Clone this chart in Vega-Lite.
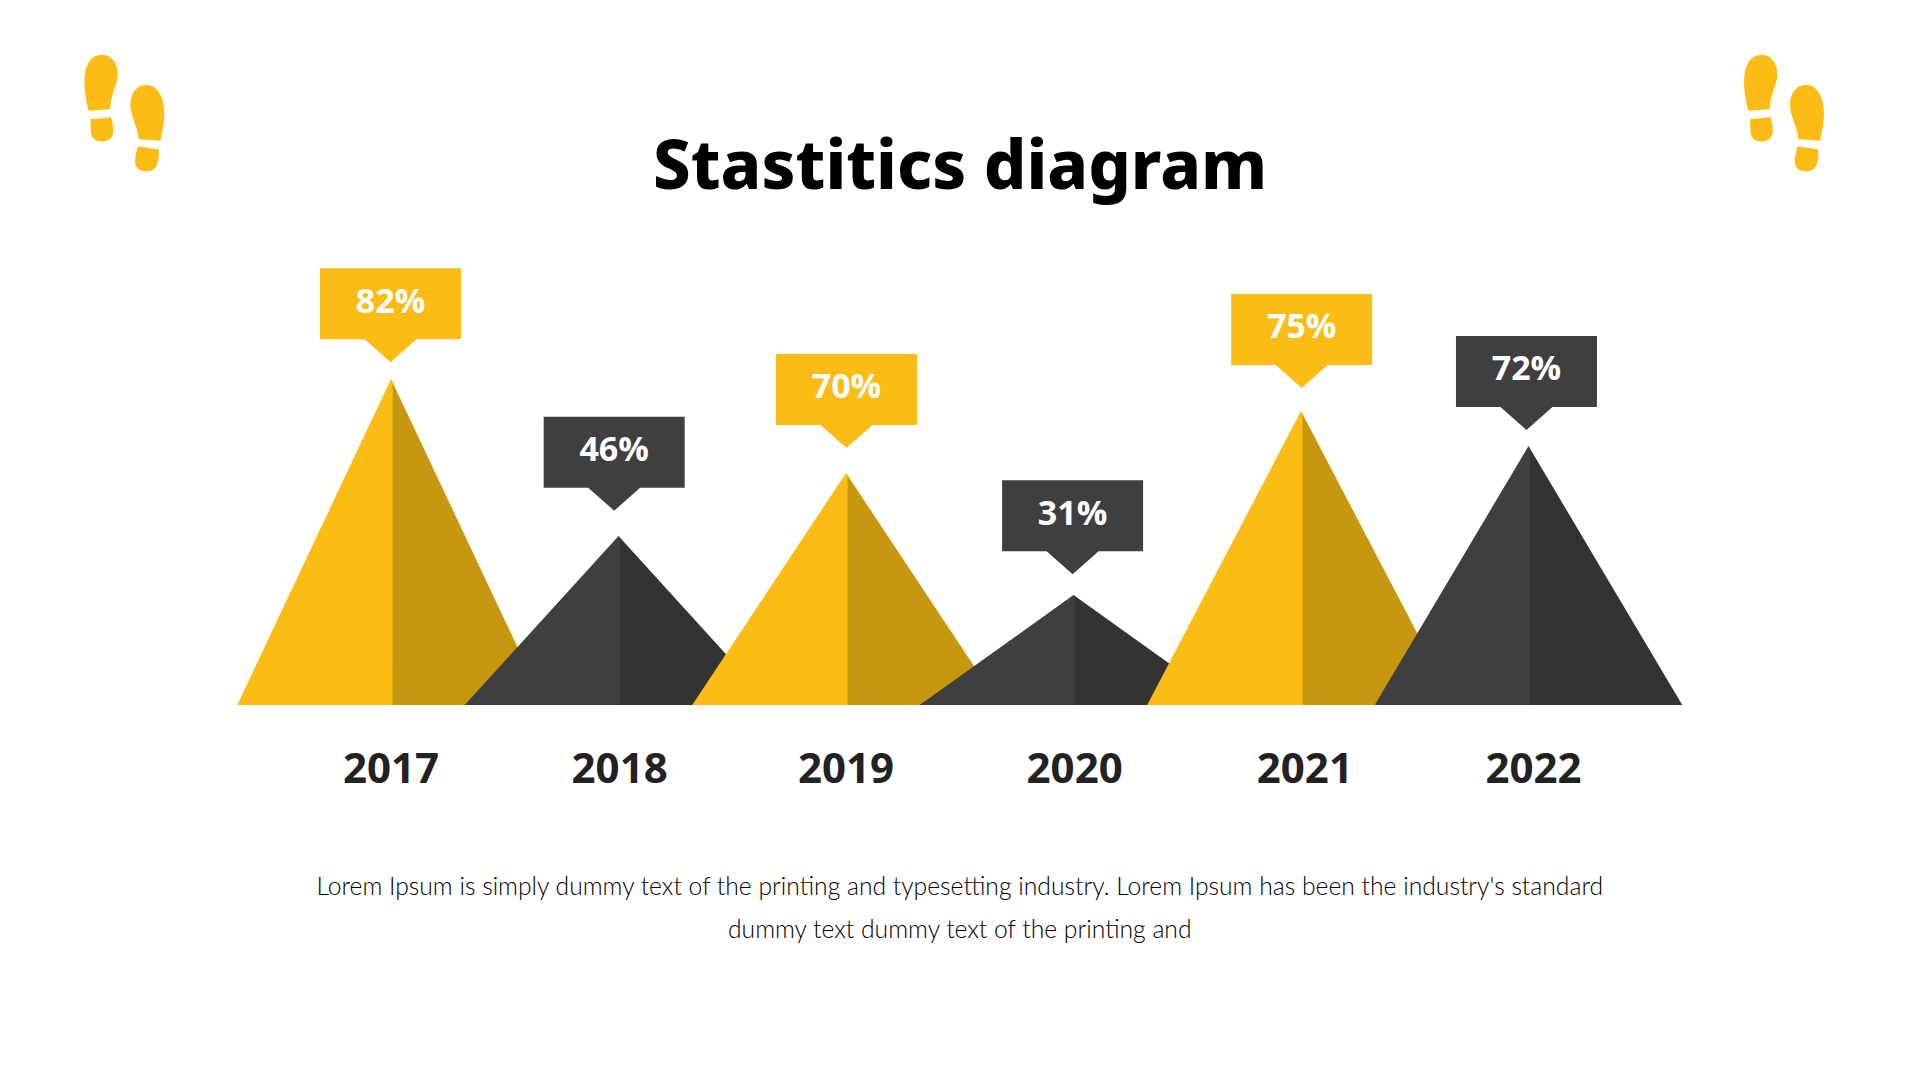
{
  "$schema": "https://vega.github.io/schema/vega-lite/v6.json",
  "width": 1920,
  "height": 1080,
  "autosize": {"type": "fit", "contains": "padding"},
  "padding": 0,
  "background": "#ffffff",
  "config": {"view": {"stroke": null}},
  "title": {
    "text": "Stastitics diagram",
    "anchor": "middle",
    "frame": "group",
    "offset": -203,
    "font": "Noto Sans",
    "fontSize": 67,
    "fontWeight": 800,
    "color": "#000000"
  },
  "datasets": {
    "triangles": [
      {"year": 2017, "part": "2017 shade", "tone": "yellow shade", "pos": 2017, "level": 81.5},
      {"year": 2017, "part": "2017 shade", "tone": "yellow shade", "pos": 2017.676, "level": 0},
      {"year": 2017, "part": "2017 lit", "tone": "yellow lit", "pos": 2016.324, "level": 0},
      {"year": 2017, "part": "2017 lit", "tone": "yellow lit", "pos": 2017, "level": 81.5},
      {"year": 2017, "part": "2017 lit", "tone": "yellow lit", "pos": 2017.007, "level": 80.7},
      {"year": 2018, "part": "2018 shade", "tone": "dark shade", "pos": 2018, "level": 42.25},
      {"year": 2018, "part": "2018 shade", "tone": "dark shade", "pos": 2018.676, "level": 0},
      {"year": 2018, "part": "2018 lit", "tone": "dark lit", "pos": 2017.324, "level": 0},
      {"year": 2018, "part": "2018 lit", "tone": "dark lit", "pos": 2018, "level": 42.25},
      {"year": 2018, "part": "2018 lit", "tone": "dark lit", "pos": 2018.007, "level": 41.8},
      {"year": 2019, "part": "2019 shade", "tone": "yellow shade", "pos": 2019, "level": 58},
      {"year": 2019, "part": "2019 shade", "tone": "yellow shade", "pos": 2019.676, "level": 0},
      {"year": 2019, "part": "2019 lit", "tone": "yellow lit", "pos": 2018.324, "level": 0},
      {"year": 2019, "part": "2019 lit", "tone": "yellow lit", "pos": 2019, "level": 58},
      {"year": 2019, "part": "2019 lit", "tone": "yellow lit", "pos": 2019.007, "level": 57.4},
      {"year": 2020, "part": "2020 shade", "tone": "dark shade", "pos": 2020, "level": 27.5},
      {"year": 2020, "part": "2020 shade", "tone": "dark shade", "pos": 2020.676, "level": 0},
      {"year": 2020, "part": "2020 lit", "tone": "dark lit", "pos": 2019.324, "level": 0},
      {"year": 2020, "part": "2020 lit", "tone": "dark lit", "pos": 2020, "level": 27.5},
      {"year": 2020, "part": "2020 lit", "tone": "dark lit", "pos": 2020.007, "level": 27.2},
      {"year": 2021, "part": "2021 shade", "tone": "yellow shade", "pos": 2021, "level": 73.5},
      {"year": 2021, "part": "2021 shade", "tone": "yellow shade", "pos": 2021.676, "level": 0},
      {"year": 2021, "part": "2021 lit", "tone": "yellow lit", "pos": 2020.324, "level": 0},
      {"year": 2021, "part": "2021 lit", "tone": "yellow lit", "pos": 2021, "level": 73.5},
      {"year": 2021, "part": "2021 lit", "tone": "yellow lit", "pos": 2021.007, "level": 72.8},
      {"year": 2022, "part": "2022 shade", "tone": "dark shade", "pos": 2022, "level": 64.75},
      {"year": 2022, "part": "2022 shade", "tone": "dark shade", "pos": 2022.676, "level": 0},
      {"year": 2022, "part": "2022 lit", "tone": "dark lit", "pos": 2021.324, "level": 0},
      {"year": 2022, "part": "2022 lit", "tone": "dark lit", "pos": 2022, "level": 64.75},
      {"year": 2022, "part": "2022 lit", "tone": "dark lit", "pos": 2022.007, "level": 64.1}
    ],
    "callouts": [
      {"year": 2017, "label": "82%", "tone": "yellow lit", "pos": 2016.998, "level": 100.3},
      {"year": 2018, "label": "46%", "tone": "dark lit", "pos": 2017.981, "level": 63.2},
      {"year": 2019, "label": "70%", "tone": "yellow lit", "pos": 2019.002, "level": 78.9},
      {"year": 2020, "label": "31%", "tone": "dark lit", "pos": 2019.996, "level": 47.3},
      {"year": 2021, "label": "75%", "tone": "yellow lit", "pos": 2021.003, "level": 93.9},
      {"year": 2022, "label": "72%", "tone": "dark lit", "pos": 2021.991, "level": 83.4}
    ],
    "years": [
      {"label": "2017", "pos": 2017, "level": -16.3},
      {"label": "2018", "pos": 2018.005, "level": -16.3},
      {"label": "2019", "pos": 2019, "level": -16.3},
      {"label": "2020", "pos": 2020.005, "level": -16.3},
      {"label": "2021", "pos": 2021.017, "level": -16.3},
      {"label": "2022", "pos": 2022.022, "level": -16.3}
    ],
    "notes": [
      {"label": "Lorem Ipsum is simply dummy text of the printing and typesetting industry. Lorem Ipsum has been the industry's standard", "pos": 2019.5, "level": -45.8},
      {"label": "dummy text dummy text of the printing and", "pos": 2019.5, "level": -56.55}
    ],
    "footprints": [
      {"pos": 2015.828, "level": 147.95},
      {"pos": 2023.123, "level": 147.95}
    ]
  },
  "encoding": {
    "x": {
      "field": "pos",
      "type": "quantitative",
      "scale": {"domain": [2015.2813, 2023.7209], "nice": false, "zero": false},
      "axis": null
    },
    "y": {
      "field": "level",
      "type": "quantitative",
      "stack": null,
      "scale": {"domain": [-93.75, 176.25], "nice": false, "zero": false},
      "axis": null
    }
  },
  "layer": [
    {
      "data": {"name": "triangles"},
      "mark": {"type": "area", "interpolate": "linear", "opacity": 1},
      "encoding": {
        "y2": {"datum": 0},
        "detail": {"field": "part"},
        "color": {
          "field": "tone",
          "type": "nominal",
          "legend": null,
          "scale": {
            "domain": ["yellow lit", "yellow shade", "dark lit", "dark shade"],
            "range": ["#FBBC15", "#C7970F", "#3F3F3F", "#333333"]
          }
        }
      }
    },
    {
      "data": {"name": "callouts"},
      "mark": {
        "type": "point",
        "filled": true,
        "opacity": 1,
        "size": 40000,
        "shape": "M-0.705 -0.355 H0.705 V0.355 H0.26 L0 0.585 L-0.26 0.355 H-0.705 Z"
      },
      "encoding": {
        "color": {"field": "tone", "type": "nominal", "legend": null}
      }
    },
    {
      "data": {"name": "callouts"},
      "mark": {"type": "text", "font": "Open Sans", "fontSize": 34, "fontWeight": 700, "color": "#ffffff", "baseline": "middle", "dy": -1},
      "encoding": {"text": {"field": "label"}}
    },
    {
      "data": {"name": "years"},
      "mark": {"type": "text", "font": "Open Sans", "fontSize": 42, "fontWeight": 700, "color": "#222222", "baseline": "middle"},
      "encoding": {"text": {"field": "label"}}
    },
    {
      "data": {"name": "notes"},
      "mark": {"type": "text", "font": "Lato", "fontSize": 24.7, "fontWeight": 300, "color": "#000000", "baseline": "middle"},
      "encoding": {"text": {"field": "label"}}
    },
    {
      "data": {"name": "footprints"},
      "mark": {
        "type": "point",
        "filled": true,
        "opacity": 1,
        "color": "#FBBC15",
        "size": 4444,
        "shape": "M-1.07 -0.07 C-1.17 -0.45 -1.22 -0.80 -1.19 -1.10 C-1.16 -1.50 -0.97 -1.75 -0.67 -1.75 C-0.37 -1.75 -0.17 -1.45 -0.20 -1.10 C-0.22 -0.85 -0.40 -0.60 -0.43 -0.12 Z M-1.02 0.18 L-0.40 0.12 C-0.35 0.30 -0.32 0.45 -0.34 0.60 C-0.37 0.78 -0.52 0.85 -0.70 0.85 C-0.87 0.85 -0.97 0.75 -1.00 0.62 Z M0.43 0.78 C0.40 0.40 0.18 0.10 0.18 -0.25 C0.18 -0.60 0.38 -0.85 0.66 -0.85 C0.98 -0.85 1.20 -0.50 1.20 0.00 C1.20 0.30 1.13 0.60 1.08 0.83 Z M0.40 1.00 L1.03 1.08 C1.04 1.22 1.03 1.35 1.01 1.45 C0.98 1.65 0.83 1.75 0.66 1.75 C0.48 1.75 0.33 1.65 0.32 1.48 C0.32 1.30 0.37 1.15 0.40 1.00 Z"
      }
    }
  ]
}
